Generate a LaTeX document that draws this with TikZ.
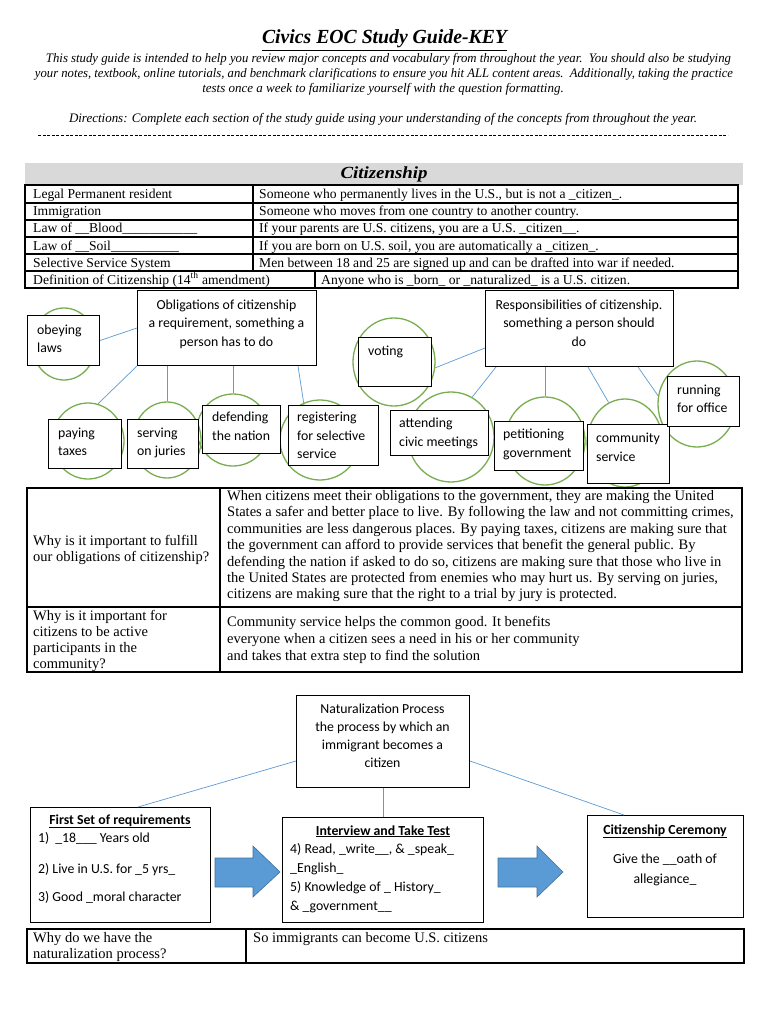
\documentclass[tikz,border=0pt]{standalone}
\usepackage{fontspec}
\usepackage{graphicx}
\setmainfont{Liberation Serif}
\newfontfamily\calib{Carlito}
\usetikzlibrary{shapes.geometric,calc}
\definecolor{cgreen}{RGB}{120,174,80}
\definecolor{cblue}{RGB}{91,155,213}
\definecolor{cblued}{RGB}{65,113,156}
\definecolor{cgray}{RGB}{217,217,217}
\newcommand{\fitw}[2]{\resizebox{#1}{\height}{#2}}
\newcommand{\fs}[1]{\fontsize{#1}{#1}\selectfont}
\newcommand{\ulx}[1]{\vtop{\hbox{#1}\kern1.2pt\hrule height 0.9pt}}
\begin{document}
\begin{tikzpicture}[x=1pt,y=-1pt,
  tx/.style={inner sep=0pt, anchor=base west},
  txc/.style={inner sep=0pt, anchor=base},
  tabA/.style={font=\fs{13.6}},
  tabB/.style={font=\fs{14.5}},
  lab/.style={font=\calib\fs{13.8}},
  box/.style={draw, line width=1pt, fill=white, inner sep=0pt, anchor=north west},
  ring/.style={ellipse, draw=cgreen, line width=1.3pt, inner sep=0pt},
  conn/.style={draw=cblue, line width=0.7pt},
  tbl/.style={line width=1.1pt},
  barrow/.style={fill=cblue, draw=cblued, line width=0.6pt}]
\useasboundingbox (0,0) rectangle (768,1024);
\fill[white] (0,0) rectangle (768,1024);

% ---------- header ----------
\node[txc] (title) at (384.5,44) {\fs{20}\bfseries\itshape\ulx{\fitw{245pt}{Civics EOC Study Guide-KEY}}};
\node[txc] (i1) at (388.5,63) {\fs{13}\itshape\fitw{685pt}{This study guide is intended to help you review major concepts and vocabulary from throughout the year.\ \ You should also be studying}};
\node[txc] (i2) at (384,78) {\fs{13}\itshape\fitw{698pt}{your notes, textbook, online tutorials, and benchmark clarifications to ensure you hit ALL content areas.\ \ Additionally, taking the practice}};
\node[txc] (i3) at (383,93) {\fs{13}\itshape tests once a week to familiarize yourself with the question formatting.};
\node[txc] (dir) at (383,123) {\fs{13}\itshape\fitw{628pt}{Directions: Complete each section of the study guide using your understanding of the concepts from throughout the year.}};
\draw[dash pattern=on 3pt off 1.6pt, line width=0.9pt] (38,135) -- (728,135);

% ---------- citizenship table ----------
\fill[cgray] (25,163) rectangle (743,185);
\node[txc] (cit) at (384,179) {\fs{17}\bfseries\itshape\ulx{\fitw{87pt}{Citizenship}}};
\draw[tbl] (25,185) rectangle (738,288);
\foreach \yy in {203,220,237,254,271} \draw[tbl] (25,\yy) -- (738,\yy);
\draw[tbl] (253,185) -- (253,271);
\draw[tbl] (315,271) -- (315,288);
\foreach \a/\b/\yy [count=\i] in {
  {Legal Permanent resident}/{Someone who permanently lives in the U.S., but is not a \_citizen\_.}/198.5,
  {Immigration}/{Someone who moves from one country to another country.}/216,
  {Law of \_\_Blood\_\_\_\_\_\_\_\_\_\_\_}/{If your parents are U.S. citizens, you are a U.S. \_citizen\_\_.}/233,
  {Law of \_\_Soil\_\_\_\_\_\_\_\_\_\_}/{If you are born on U.S. soil, you are automatically a \_citizen\_.}/250,
  {Selective Service System}/{Men between 18 and 25 are signed up and can be drafted into war if needed.}/267}
{
  \node[tx, tabA, name=ta\i] at (33,\yy) {\a};
  \node[tx, tabA, name=tb\i] at (259,\yy) {\b};
}
\node[tx, tabA] (ta6) at (33,284) {Definition of Citizenship (14\textsuperscript{th} amendment)};
\node[tx, tabA] (tb6) at (321,284) {Anyone who is \_born\_ or \_naturalized\_ is a U.S. citizen.};

% ---------- circles ----------
\node[ring, minimum width=64pt, minimum height=72pt] (cobey) at (64,344) {};
\node[ring, minimum width=72pt, minimum height=76pt] (cpay) at (88,441) {};
\node[ring, minimum width=68pt, minimum height=76pt] (cjury) at (167,440) {};
\node[ring, minimum width=72pt, minimum height=72pt] (cdef) at (233,430) {};
\node[ring, minimum width=80pt, minimum height=80pt] (creg) at (320,440) {};
\node[ring, minimum width=82pt, minimum height=88pt] (cvote) at (394,362) {};
\node[ring, minimum width=86pt, minimum height=90pt] (catt) at (451,437) {};
\node[ring, minimum width=80pt, minimum height=88pt] (cpet) at (545,441) {};
\node[ring, minimum width=76pt, minimum height=88pt] (ccom) at (625,443) {};
\node[ring, minimum width=78pt, minimum height=86pt] (crun) at (697,404) {};

% ---------- connectors ----------
\node[box, minimum width=179pt, minimum height=75pt, draw=none, fill=none] (oblig) at (137,290) {};
\node[box, minimum width=188pt, minimum height=76pt, draw=none, fill=none] (resp) at (485,290) {};
\node[box, minimum width=72pt, minimum height=50pt, draw=none, fill=none] (obey) at (27,315) {};
\node[box, minimum width=90pt, minimum height=60pt, draw=none, fill=none] (reg) at (288,405) {};
\draw[conn] (obey.east) -- (oblig.west);
\draw[conn] (cpay.75) -- (oblig.south west);
\draw[conn] (cjury.north) -- (cjury.north |- oblig.south);
\draw[conn] (cdef.north) -- (cdef.north |- oblig.south);
\draw[conn] ($(reg.north west)+(16,0)$) -- ($(oblig.south east)+(-19,0)$);
\draw[conn] (cvote.-8) -- ($(resp.south west)+(0,-19)$);
\draw[conn] (catt.62) -- ($(resp.south west)+(11,0)$);
\draw[conn] (cpet.north) -- (cpet.north |- resp.south);
\draw[conn] (ccom.112) -- ($(resp.south west)+(103,0)$);
\draw[conn] (crun.168) -- ($(resp.south east)+(-36,0)$);

% ---------- boxes ----------
\node[box, minimum width=179pt, minimum height=75pt] (obligb) at (137,290) {};
\node[box, minimum width=188pt, minimum height=76pt] (respb) at (485,290) {};
\node[box, minimum width=72pt, minimum height=50pt] (obeyb) at (27,315) {};
\node[box, minimum width=73pt, minimum height=49pt] (pay) at (48,419) {};
\node[box, minimum width=71pt, minimum height=49pt] (jury) at (127,419) {};
\node[box, minimum width=78pt, minimum height=48pt] (def) at (202,405) {};
\node[box, minimum width=90pt, minimum height=60pt] (regb) at (288,405) {};
\node[box, minimum width=73pt, minimum height=49pt] (vote) at (358,337) {};
\node[box, minimum width=98pt, minimum height=45pt] (att) at (390,410) {};
\node[box, minimum width=89pt, minimum height=49pt] (pet) at (494,421) {};
\node[box, minimum width=82pt, minimum height=59pt] (com) at (587,424) {};
\node[box, minimum width=72pt, minimum height=50pt] (run) at (667,376) {};

% ---------- box texts ----------
\node[txc, lab] (ob1) at (226.5,309) {Obligations of citizenship};
\node[txc, lab] (ob2) at (226.5,327.5) {a requirement, something a};
\node[txc, lab] (ob3) at (226.5,346) {person has to do};
\node[txc, lab] (rs1) at (579,309) {Responsibilities of citizenship.};
\node[txc, lab] (rs2) at (579,327.5) {something a person should};
\node[txc, lab] (rs3) at (579,346) {do};
\node[tx, lab] (l1) at (37,334) {obeying};
\node[tx, lab] (l2) at (37,352) {laws};
\node[tx, lab] (l3) at (58,437) {paying};
\node[tx, lab] (l4) at (58,455) {taxes};
\node[tx, lab] (l5) at (137,437) {serving};
\node[tx, lab] (l6) at (137,455) {on juries};
\node[tx, lab] (l7) at (212,421) {defending};
\node[tx, lab] (l8) at (212,440) {the nation};
\node[tx, lab] (l9) at (297,421) {registering};
\node[tx, lab] (l10) at (297,440) {for selective};
\node[tx, lab] (l11) at (297,458.5) {service};
\node[tx, lab] (l12) at (368,355) {voting};
\node[tx, lab] (l13) at (399,427) {attending};
\node[tx, lab] (l14) at (399,446) {civic meetings};
\node[tx, lab] (l15) at (503,438) {petitioning};
\node[tx, lab] (l16) at (503,457) {government};
\node[tx, lab] (l17) at (596,442) {community};
\node[tx, lab] (l18) at (596,461) {service};
\node[tx, lab] (l19) at (677,394) {running};
\node[tx, lab] (l20) at (677,412) {for office};

% ---------- why table ----------
\draw[tbl] (27,488) rectangle (742,672);
\draw[tbl] (27,607) -- (742,607);
\draw[tbl] (220,488) -- (220,672);
\node[tx, tabB] (q1a) at (33,545.5) {Why is it important to fulfill};
\node[tx, tabB] (q1b) at (33,561.5) {our obligations of citizenship?};
\foreach \s [count=\i] in {
  {When citizens meet their obligations to the government, they are making the United},
  {States a safer and better place to live. By following the law and not committing crimes,},
  {communities are less dangerous places. By paying taxes, citizens are making sure that},
  {the government can afford to provide services that benefit the general public. By},
  {defending the nation if asked to do so, citizens are making sure that those who live in},
  {the United States are protected from enemies who may hurt us. By serving on juries,},
  {citizens are making sure that the right to a trial by jury is protected.}}
  \node[tx, tabB, name=a1\i] at (227,{500.5+16.4*(\i-1)}) {\s};
\foreach \s [count=\i] in {
  {Why is it important for},{citizens to be active},{participants in the},{community?}}
  \node[tx, tabB, name=q2\i] at (33,{620.5+16*(\i-1)}) {\s};
\foreach \s [count=\i] in {
  {Community service helps the common good. It benefits},
  {everyone when a citizen sees a need in his or her community},
  {and takes that extra step to find the solution}}
  \node[tx, tabB, name=a2\i] at (227,{626.5+16.8*(\i-1)}) {\s};

% ---------- naturalization ----------
\node[box, minimum width=173pt, minimum height=92pt] (nat) at (296,695) {};
\node[box, minimum width=180pt, minimum height=115pt] (first) at (30,807) {};
\node[box, minimum width=201pt, minimum height=105pt] (inter) at (282,817) {};
\node[box, minimum width=156pt, minimum height=102pt] (cer) at (587,815) {};
\draw[conn] ($(nat.south west)+(0,-27)$) -- ($(first.north west)+(108,0)$);
\draw[conn] (nat.south) -- (nat.south |- inter.north);
\draw[conn] ($(nat.south east)+(0,-27)$) -- ($(cer.north west)+(37,0)$);

\node[txc, lab] (n1) at (382.5,713) {Naturalization Process};
\node[txc, lab] (n2) at (382.5,731) {the process by which an};
\node[txc, lab] (n3) at (382.5,749) {immigrant becomes a};
\node[txc, lab] (n4) at (382.5,767) {citizen};

\node[txc, lab] (f0) at (120,824) {\bfseries\ulx{First Set of requirements}};
\node[tx, lab] (f1) at (38,842) {1)\hspace{6pt}\_18\_\_\_ Years old};
\node[tx, lab] (f2) at (38,873) {2) Live in U.S. for \_5 yrs\_};
\node[tx, lab] (f3) at (38,901) {3) Good \_moral character};

\node[txc, lab] (v0) at (383,835) {\bfseries\ulx{Interview and Take Test}};
\node[tx, lab] (v1) at (290,853.5) {4) Read, \_write\_\_, \& \_speak\_};
\node[tx, lab] (v2) at (290,872) {\_English\_};
\node[tx, lab] (v3) at (290,891) {5) Knowledge of \_ History\_};
\node[tx, lab] (v4) at (290,910) {\& \_government\_\_};

\node[txc, lab] (c0) at (665,834) {\bfseries\ulx{Citizenship Ceremony}};
\node[txc, lab] (c1) at (665,863) {Give the \_\_oath of};
\node[txc, lab] (c2) at (665,883) {allegiance\_};

\draw[barrow] (215,858) -- (253,858) -- (253,846) -- (280,872) -- (253,897) -- (253,887) -- (215,887) -- cycle;
\draw[barrow] (498,858) -- (537,858) -- (537,846) -- (563,872) -- (537,897) -- (537,887) -- (498,887) -- cycle;

% ---------- bottom table ----------
\draw[tbl] (27,929) rectangle (744,963);
\draw[tbl] (246,929) -- (246,963);
\node[tx, tabB] (bq1) at (33,942.5) {Why do we have the};
\node[tx, tabB] (bq2) at (33,958.5) {naturalization process?};
\node[tx, tabB] (ba1) at (253,942.5) {So immigrants can become U.S. citizens};
\end{tikzpicture}
\end{document}
